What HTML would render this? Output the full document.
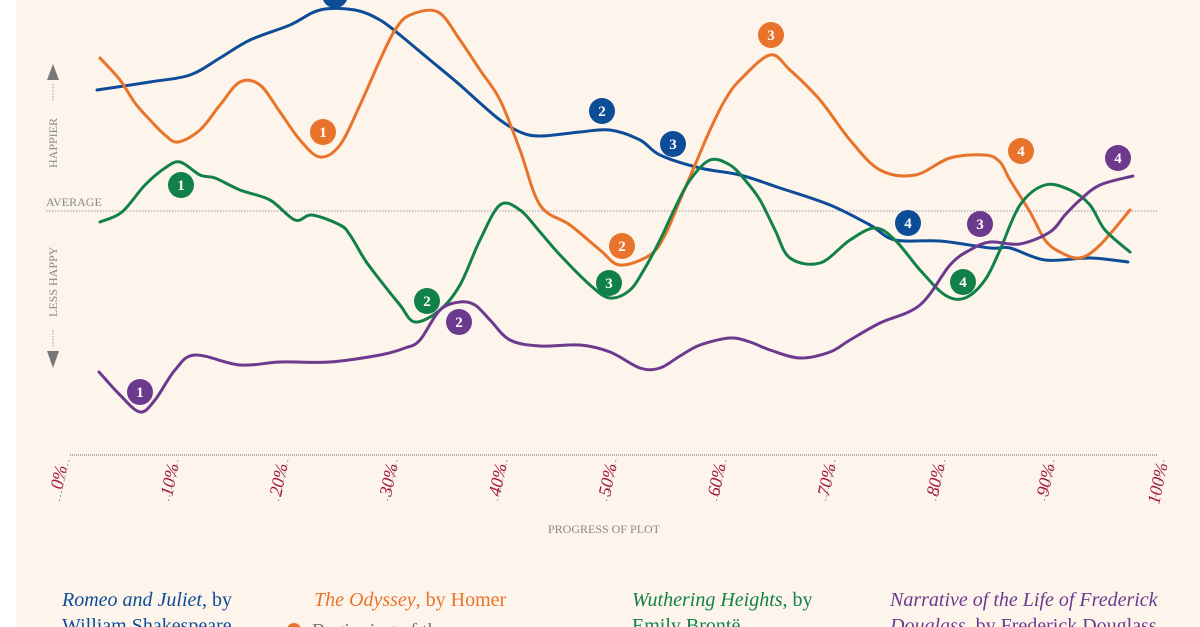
<!DOCTYPE html>
<html><head><meta charset="utf-8"><style>
html,body{margin:0;padding:0;background:#fff;}
svg{display:block}
text{font-family:"Liberation Serif",serif;}
</style></head><body>
<svg id="s" width="1200" height="627" viewBox="0 0 1200 627" xmlns="http://www.w3.org/2000/svg">
<rect x="16" y="0" width="1184" height="627" fill="#fdf5ec"/>
<text x="46" y="206" font-size="12" fill="#888">AVERAGE</text>
<line x1="46" y1="211" x2="1158" y2="211" stroke="#999" stroke-width="1" stroke-dasharray="1.5,1.5"/>
<polygon points="53,64 47,80 59,80" fill="#777"/>
<line x1="53" y1="84" x2="53" y2="101" stroke="#999" stroke-dasharray="1.5,1.5"/>
<text transform="translate(57,168) rotate(-90)" font-size="12" fill="#888">HAPPIER</text>
<text transform="translate(57,317) rotate(-90)" font-size="12" fill="#888">LESS HAPPY</text>
<line x1="53" y1="330" x2="53" y2="348" stroke="#999" stroke-dasharray="1.5,1.5"/>
<polygon points="53,368 47,351 59,351" fill="#777"/>
<line x1="70" y1="455" x2="1158" y2="455" stroke="#aaa" stroke-width="2" stroke-dasharray="1,1"/>
<g font-size="18" font-style="italic" fill="#a3123f">
<text transform="translate(62,490) rotate(-78)">0%</text>
<text transform="translate(172,497) rotate(-78)">10%</text>
<text transform="translate(281,497) rotate(-78)">20%</text>
<text transform="translate(391,497) rotate(-78)">30%</text>
<text transform="translate(500,497) rotate(-78)">40%</text>
<text transform="translate(610,497) rotate(-78)">50%</text>
<text transform="translate(719,497) rotate(-78)">60%</text>
<text transform="translate(829,497) rotate(-78)">70%</text>
<text transform="translate(938,497) rotate(-78)">80%</text>
<text transform="translate(1048,497) rotate(-78)">90%</text>
<text transform="translate(1159,505) rotate(-78)">100%</text>
</g>
<g stroke="#999" stroke-width="1" stroke-dasharray="2,2">
<line x1="69" y1="460" x2="59" y2="503"/><line x1="178" y1="460" x2="168" y2="503"/>
<line x1="288" y1="460" x2="278" y2="503"/><line x1="397" y1="460" x2="387" y2="503"/>
<line x1="507" y1="460" x2="497" y2="503"/><line x1="616" y1="460" x2="606" y2="503"/>
<line x1="726" y1="460" x2="716" y2="503"/><line x1="835" y1="460" x2="825" y2="503"/>
<line x1="945" y1="460" x2="935" y2="503"/><line x1="1054" y1="460" x2="1044" y2="503"/>
<line x1="1164" y1="460" x2="1154" y2="503"/>
</g>
<text x="604" y="533" font-size="12" fill="#888" text-anchor="middle">PROGRESS OF PLOT</text>
<g id="lines" fill="none" stroke-width="3" stroke-linejoin="round" stroke-linecap="round">
<polyline stroke="#0d4c97" points="97,90 150,82 190,75 220,58 250,40 290,25 320,10 355,10 380,20 400,35 430,60 460,85 480,103 500,120 520,132 540,136 580,132 610,130 640,140 660,155 700,168 740,175 780,188 830,205 870,225 895,240 940,241 990,248 1010,248 1045,260 1090,258 1128,262"/>
<polyline stroke="#e8732a" points="100,58 120,80 135,103 150,120 165,135 178,142 200,130 220,105 240,82 260,85 280,112 300,140 320,157 340,145 360,105 380,60 395,30 410,15 438,12 460,40 480,70 500,100 520,150 540,205 570,225 600,250 620,265 650,255 665,235 680,200 695,165 710,130 725,100 740,80 770,55 790,70 820,100 850,140 880,170 915,175 950,158 985,155 1000,162 1010,180 1030,212 1045,240 1060,252 1080,258 1100,245 1130,210"/>
<polyline stroke="#128049" points="100,222 122,212 145,185 165,168 180,162 200,175 215,178 240,190 270,200 295,220 312,215 340,225 350,235 365,260 380,280 400,305 415,322 440,310 460,285 480,240 500,205 520,210 540,232 560,255 590,285 610,298 630,290 645,268 660,240 675,208 690,180 710,160 730,165 745,180 760,200 775,230 790,258 820,263 850,240 875,228 895,240 920,270 945,295 965,298 985,280 1000,250 1020,205 1045,185 1070,190 1090,205 1105,230 1130,252"/>
<polyline stroke="#6b3a8e" points="99,372 120,395 140,412 155,400 175,370 195,355 240,365 280,362 330,362 380,355 405,348 420,340 440,310 460,302 475,305 490,320 510,340 540,346 580,345 610,352 640,368 660,368 680,356 700,345 730,338 750,342 770,350 800,358 830,352 850,340 880,323 920,305 950,265 970,250 990,242 1020,244 1050,232 1065,215 1080,200 1100,185 1133,176"/>
</g>
<g font-size="15" font-weight="bold" fill="#fff" text-anchor="middle">
<circle cx="335" cy="-5" r="13" fill="#0d4c97"/>
<circle cx="602" cy="111" r="13" fill="#0d4c97"/><text x="602" y="116">2</text>
<circle cx="673" cy="144" r="13" fill="#0d4c97"/><text x="673" y="149">3</text>
<circle cx="908" cy="223" r="13" fill="#0d4c97"/><text x="908" y="228">4</text>
<circle cx="323" cy="132" r="13" fill="#e8732a"/><text x="323" y="137">1</text>
<circle cx="622" cy="246" r="13" fill="#e8732a"/><text x="622" y="251">2</text>
<circle cx="771" cy="35" r="13" fill="#e8732a"/><text x="771" y="40">3</text>
<circle cx="1021" cy="151" r="13" fill="#e8732a"/><text x="1021" y="156">4</text>
<circle cx="181" cy="185" r="13" fill="#128049"/><text x="181" y="190">1</text>
<circle cx="427" cy="301" r="13" fill="#128049"/><text x="427" y="306">2</text>
<circle cx="609" cy="283" r="13" fill="#128049"/><text x="609" y="288">3</text>
<circle cx="963" cy="282" r="13" fill="#128049"/><text x="963" y="287">4</text>
<circle cx="140" cy="392" r="13" fill="#6b3a8e"/><text x="140" y="397">1</text>
<circle cx="459" cy="322" r="13" fill="#6b3a8e"/><text x="459" y="327">2</text>
<circle cx="980" cy="224" r="13" fill="#6b3a8e"/><text x="980" y="229">3</text>
<circle cx="1118" cy="158" r="13" fill="#6b3a8e"/><text x="1118" y="163">4</text>
</g>
<g font-size="20">
<text x="62" y="606" fill="#0d4c97"><tspan font-style="italic">Romeo and Juliet</tspan>, by</text>
<text x="62" y="632" fill="#0d4c97">William Shakespeare</text>
<text x="314" y="606" fill="#e8732a"><tspan font-style="italic">The Odyssey</tspan>, by Homer</text>
<circle cx="294" cy="630" r="7" fill="#e8732a"/>
<text x="312" y="637" fill="#777">Beginning of the</text>
<text x="632" y="606" fill="#128049"><tspan font-style="italic">Wuthering Heights</tspan>, by</text>
<text x="632" y="632" fill="#128049">Emily Brontë</text>
<text x="890" y="606" fill="#6b3a8e" font-style="italic">Narrative of the Life of Frederick</text>
<text x="890" y="632" fill="#6b3a8e"><tspan font-style="italic">Douglass</tspan>, by Frederick Douglass</text>
</g>
</svg>
<script>
(function(){
var pls=document.querySelectorAll('#lines polyline');
var ns='http://www.w3.org/2000/svg';
pls.forEach(function(pl){
 var p=pl.getAttribute('points').trim().split(/\s+/).map(function(s){return s.split(',').map(Number);});
 var d='M'+p[0][0]+','+p[0][1];
 for(var i=0;i<p.length-1;i++){
  var p0=p[i-1]||p[i],p1=p[i],p2=p[i+1],p3=p[i+2]||p2;
  var c1x=p1[0]+(p2[0]-p0[0])/6,c1y=p1[1]+(p2[1]-p0[1])/6;
  var c2x=p2[0]-(p3[0]-p1[0])/6,c2y=p2[1]-(p3[1]-p1[1])/6;
  d+=' C'+c1x.toFixed(1)+','+c1y.toFixed(1)+' '+c2x.toFixed(1)+','+c2y.toFixed(1)+' '+p2[0]+','+p2[1];
 }
 var path=document.createElementNS(ns,'path');
 path.setAttribute('d',d);path.setAttribute('stroke',pl.getAttribute('stroke'));
 pl.parentNode.replaceChild(path,pl);
});
})();
</script>
</body></html>
